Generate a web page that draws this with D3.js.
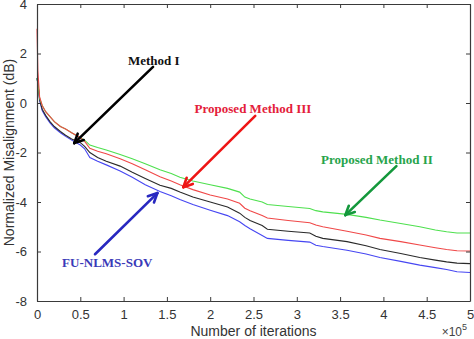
<!DOCTYPE html>
<html><head><meta charset="utf-8">
<script src="https://cdn.jsdelivr.net/npm/d3@7"></script>
<style>body{margin:0;background:#fff}svg{display:block}</style>
</head><body>
<svg id="c" width="474" height="339"></svg>
<script>
const iterations = [0,0.01,0.03,0.06,0.1,0.15,0.2,0.27,0.33,0.4,0.5,0.55,0.61,0.7,0.8,0.96,1.1,1.25,1.42,1.55,1.65,1.8,2.0,2.2,2.34,2.4,2.46,2.6,2.66,2.9,3.15,3.22,3.3,3.58,3.8,3.96,4.2,4.42,4.6,4.73,4.85,5.0];
const methodII  = [1.0,0.8,0.2,-0.1,-0.35,-0.55,-0.75,-0.95,-1.05,-1.2,-1.4,-1.5,-1.7,-1.8,-1.9,-2.08,-2.25,-2.45,-2.7,-2.85,-3.0,-3.15,-3.3,-3.45,-3.6,-3.8,-3.88,-4.0,-4.1,-4.18,-4.26,-4.35,-4.4,-4.5,-4.62,-4.73,-4.87,-5.0,-5.13,-5.2,-5.25,-5.25];
const methodIII = [3.0,1.3,0.25,-0.1,-0.35,-0.55,-0.75,-0.95,-1.05,-1.2,-1.4,-1.55,-1.83,-1.95,-2.05,-2.25,-2.45,-2.7,-2.98,-3.15,-3.3,-3.5,-3.72,-3.88,-4.05,-4.25,-4.35,-4.55,-4.65,-4.75,-4.84,-4.93,-5.0,-5.18,-5.33,-5.47,-5.6,-5.74,-5.85,-5.92,-5.97,-5.98];
const methodI   = [1.0,0.8,0.15,-0.25,-0.5,-0.75,-0.95,-1.15,-1.3,-1.45,-1.6,-1.75,-2.0,-2.2,-2.35,-2.55,-2.8,-3.05,-3.32,-3.45,-3.6,-3.8,-4.0,-4.2,-4.45,-4.62,-4.75,-4.95,-5.1,-5.18,-5.25,-5.38,-5.47,-5.6,-5.77,-5.92,-6.08,-6.24,-6.35,-6.42,-6.47,-6.49];
const fuNlmsSov = [1.0,0.8,0.1,-0.3,-0.55,-0.8,-1.0,-1.2,-1.35,-1.5,-1.7,-1.85,-2.2,-2.35,-2.5,-2.75,-3.0,-3.3,-3.58,-3.75,-3.9,-4.1,-4.33,-4.55,-4.8,-4.95,-5.08,-5.35,-5.47,-5.55,-5.62,-5.75,-5.8,-5.95,-6.1,-6.24,-6.4,-6.55,-6.65,-6.73,-6.82,-6.85];
const xTicks = [0,0.5,1,1.5,2,2.5,3,3.5,4,4.5,5];
const yTicks = [-8,-6,-4,-2,0,2,4];
const labels = ["Method I","Proposed Method III","Proposed Method II","FU-NLMS-SOV"];
// annotation anchors in data units: [textX, textY, arrowFromX, arrowFromY, arrowTipX, arrowTipY]
const annot = [
  [1.05,1.54, 1.34,1.46, 0.43,-1.62],
  [1.82,-0.40, 2.52,-0.52, 1.69,-3.40],
  [3.28,-2.47, 4.15,-2.55, 3.56,-4.53],
  [0.29,-6.63, 0.67,-6.11, 1.39,-3.64]
];
const textColors = ["#111","#e4203a","#27a44c","#3a3ab8"];
const arrowColors = ["#000","#ee1515","#14983c","#2828c0"];

const svg = d3.select("#c");
const x = d3.scaleLinear().domain([0,5]).range([37,470]);
const y = d3.scaleLinear().domain([-8,4]).range([301,4]);
const axisCol = "#3a3a3a";
const tickFont = "Arial, 'Liberation Sans', sans-serif";

// series
const series = [
  {v: fuNlmsSov, c: "#4646f2"},
  {v: methodI, c: "#2a2a2a"},
  {v: methodII, c: "#4ee04e"},
  {v: methodIII, c: "#f04848"}
];
const line = d3.line().x((d,i)=>x(iterations[i])).y(d=>y(d));
series.forEach(s=>{
  svg.append("path").attr("d", line(s.v)).attr("fill","none").attr("stroke", s.c).attr("stroke-width",1.1);
});

// axes (box with inward ticks)
const gB = svg.append("g").attr("transform",`translate(0,${y(-8)})`).call(d3.axisBottom(x).tickValues(xTicks).tickSizeInner(-4).tickSizeOuter(0).tickPadding(9).tickFormat(d=>d));
const gT = svg.append("g").attr("transform",`translate(0,${y(4)})`).call(d3.axisTop(x).tickValues(xTicks).tickSizeInner(-4).tickSizeOuter(0).tickFormat(""));
const gL = svg.append("g").attr("transform",`translate(${x(0)},0)`).call(d3.axisLeft(y).tickValues(yTicks).tickSizeInner(-4).tickSizeOuter(0).tickPadding(10).tickFormat(d=>d));
const gR = svg.append("g").attr("transform",`translate(${x(5)},0)`).call(d3.axisRight(y).tickValues(yTicks).tickSizeInner(-4).tickSizeOuter(0).tickFormat(""));
[gB,gT,gL,gR].forEach(g=>{
  g.selectAll("path").attr("stroke",axisCol).attr("stroke-width",1.2);
  g.selectAll("line").attr("stroke",axisCol);
  g.selectAll("text").attr("fill","#333").style("font-family",tickFont).style("font-size","13px");
});

// axis labels
svg.append("text").attr("x", (x(0)+x(5))/2).attr("y", 336).attr("text-anchor","middle")
  .style("font-family",tickFont).style("font-size","14px").attr("fill","#333").text("Number of iterations");
svg.append("text").attr("transform",`translate(14,${(y(4)+y(-8))/2}) rotate(-90)`).attr("text-anchor","middle")
  .style("font-family",tickFont).style("font-size","14px").attr("fill","#333").text("Normalized Misalignment (dB)");
const ex = svg.append("text").attr("x",467).attr("y",336).attr("text-anchor","end")
  .style("font-family",tickFont).style("font-size","12px").attr("fill","#444");
ex.append("tspan").text("×10");
ex.append("tspan").attr("dy",-6).style("font-size","9px").text("5");

// annotations
annot.forEach((a,i)=>{
  svg.append("text").attr("x",x(a[0])).attr("y",y(a[1]))
    .style("font-family","'Liberation Serif','Times New Roman',serif").style("font-weight","bold").style("font-size","13px")
    .attr("fill",textColors[i]).text(labels[i]);
  const x1=x(a[2]), y1=y(a[3]), x2=x(a[4]), y2=y(a[5]);
  const ang = Math.atan2(y2-y1, x2-x1);
  const g = svg.append("g").attr("stroke",arrowColors[i]).attr("stroke-width",2.6).attr("stroke-linecap","round").attr("fill","none");
  g.append("line").attr("x1",x1).attr("y1",y1).attr("x2",x2).attr("y2",y2);
  const L=10, spread=0.45;
  [ang+Math.PI-spread, ang+Math.PI+spread].forEach(t=>{
    g.append("line").attr("x1",x2).attr("y1",y2).attr("x2",x2+L*Math.cos(t)).attr("y2",y2+L*Math.sin(t));
  });
});
</script>
</body></html>
